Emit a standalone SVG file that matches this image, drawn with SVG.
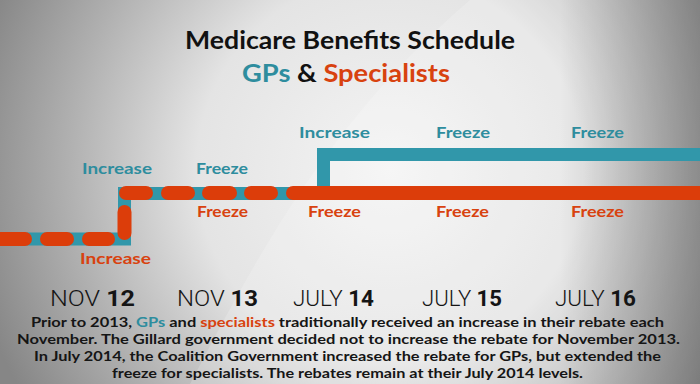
<svg xmlns="http://www.w3.org/2000/svg" width="700" height="384" viewBox="0 0 700 384">
<defs>
<radialGradient id="bg" cx="390" cy="170" r="430" gradientUnits="userSpaceOnUse">
<stop offset="0" stop-color="#f4f4f4"/>
<stop offset="0.45" stop-color="#e4e4e4"/>
<stop offset="0.75" stop-color="#b0b0b0"/>
<stop offset="1" stop-color="#868686"/>
</radialGradient>
<linearGradient id="rshade" x1="0" y1="0" x2="1" y2="0">
<stop offset="0.8" stop-color="#000" stop-opacity="0"/>
<stop offset="1" stop-color="#000" stop-opacity="0.28"/>
</linearGradient>
<style>
.t{font-family:"Lato","Liberation Sans",sans-serif;font-weight:bold}
.teal{fill:#2e8d9e}
.org{fill:#d8420f}
.lbl{font-size:16px}
.date{font-family:"Roboto","Liberation Sans",sans-serif;font-size:22px;fill:#151515}
.lt{font-weight:300}
.bd{font-weight:bold}
.para{font-family:"Lato","Liberation Sans",sans-serif;font-weight:bold;font-size:14px;fill:#151515}
.tl{fill:none;stroke:#3197aa;stroke-width:13}
.od{fill:none;stroke:#dc3d0a;stroke-width:14;stroke-linecap:round}
</style>
</defs>
<rect width="700" height="384" fill="url(#bg)"/>
<path d="M190,384 C260,250 330,120 470,0 L700,0 L700,384 Z" fill="#ffffff" opacity="0.18"/>
<rect width="700" height="384" fill="url(#rshade)"/>

<g id="title">
<text class="t" x="185" y="49" font-size="24" fill="#111" textLength="330" lengthAdjust="spacingAndGlyphs">Medicare Benefits Schedule</text>
<text class="t" x="242" y="82" font-size="25" textLength="208" lengthAdjust="spacingAndGlyphs"><tspan class="teal">GPs</tspan><tspan fill="#111"> &amp; </tspan><tspan class="org">Specialists</tspan></text>
</g>

<g id="connectors">
<path id="gp-line" class="tl" d="M-5,239 H124.5 V193.5 H323.5 V154.5 H705"/>
<g id="spec-line" class="od">
<line x1="-6" y1="239" x2="25" y2="239"/>
<line x1="47" y1="239" x2="67" y2="239"/>
<line x1="89" y1="239" x2="108" y2="239"/>
<line x1="124.5" y1="212" x2="124.5" y2="233"/>
<line x1="126" y1="193" x2="146" y2="193"/>
<line x1="168" y1="193" x2="188" y2="193"/>
<line x1="209" y1="193" x2="230" y2="193"/>
<line x1="251" y1="193" x2="271" y2="193"/>
<line x1="293" y1="193" x2="710" y2="193"/>
</g>
</g>

<g id="gp-labels" class="t lbl teal">
<text x="82" y="174" textLength="70" lengthAdjust="spacingAndGlyphs">Increase</text>
<text x="196" y="174" textLength="52" lengthAdjust="spacingAndGlyphs">Freeze</text>
<text x="299" y="138" textLength="71" lengthAdjust="spacingAndGlyphs">Increase</text>
<text x="436" y="138" textLength="54" lengthAdjust="spacingAndGlyphs">Freeze</text>
<text x="571" y="138" textLength="53" lengthAdjust="spacingAndGlyphs">Freeze</text>
</g>

<g id="spec-labels" class="t lbl org">
<text x="80" y="264" textLength="71" lengthAdjust="spacingAndGlyphs">Increase</text>
<text x="197" y="217" textLength="51" lengthAdjust="spacingAndGlyphs">Freeze</text>
<text x="308" y="217" textLength="53" lengthAdjust="spacingAndGlyphs">Freeze</text>
<text x="436" y="217" textLength="53" lengthAdjust="spacingAndGlyphs">Freeze</text>
<text x="571" y="217" textLength="53" lengthAdjust="spacingAndGlyphs">Freeze</text>
</g>

<g id="dates" class="date">
<text x="50" y="306" textLength="85" lengthAdjust="spacingAndGlyphs"><tspan class="lt">NOV </tspan><tspan class="bd">12</tspan></text>
<text x="177" y="306" textLength="81" lengthAdjust="spacingAndGlyphs"><tspan class="lt">NOV </tspan><tspan class="bd">13</tspan></text>
<text x="293" y="306" textLength="81" lengthAdjust="spacingAndGlyphs"><tspan class="lt">JULY </tspan><tspan class="bd">14</tspan></text>
<text x="422" y="306" textLength="80" lengthAdjust="spacingAndGlyphs"><tspan class="lt">JULY </tspan><tspan class="bd">15</tspan></text>
<text x="555" y="306" textLength="81" lengthAdjust="spacingAndGlyphs"><tspan class="lt">JULY </tspan><tspan class="bd">16</tspan></text>
</g>

<g id="caption" class="para">
<text x="31" y="327" textLength="633" lengthAdjust="spacingAndGlyphs">Prior to 2013, <tspan class="teal">GPs</tspan> and <tspan class="org">specialists</tspan> traditionally received an increase in their rebate each</text>
<text x="17" y="344" textLength="663" lengthAdjust="spacingAndGlyphs">November. The Gillard government decided not to increase the rebate for November 2013.</text>
<text x="34" y="361" textLength="627" lengthAdjust="spacingAndGlyphs">In July 2014, the Coalition Government increased the rebate for GPs, but extended the</text>
<text x="112" y="378" textLength="471" lengthAdjust="spacingAndGlyphs">freeze for specialists. The rebates remain at their July 2014 levels.</text>
</g>
</svg>
